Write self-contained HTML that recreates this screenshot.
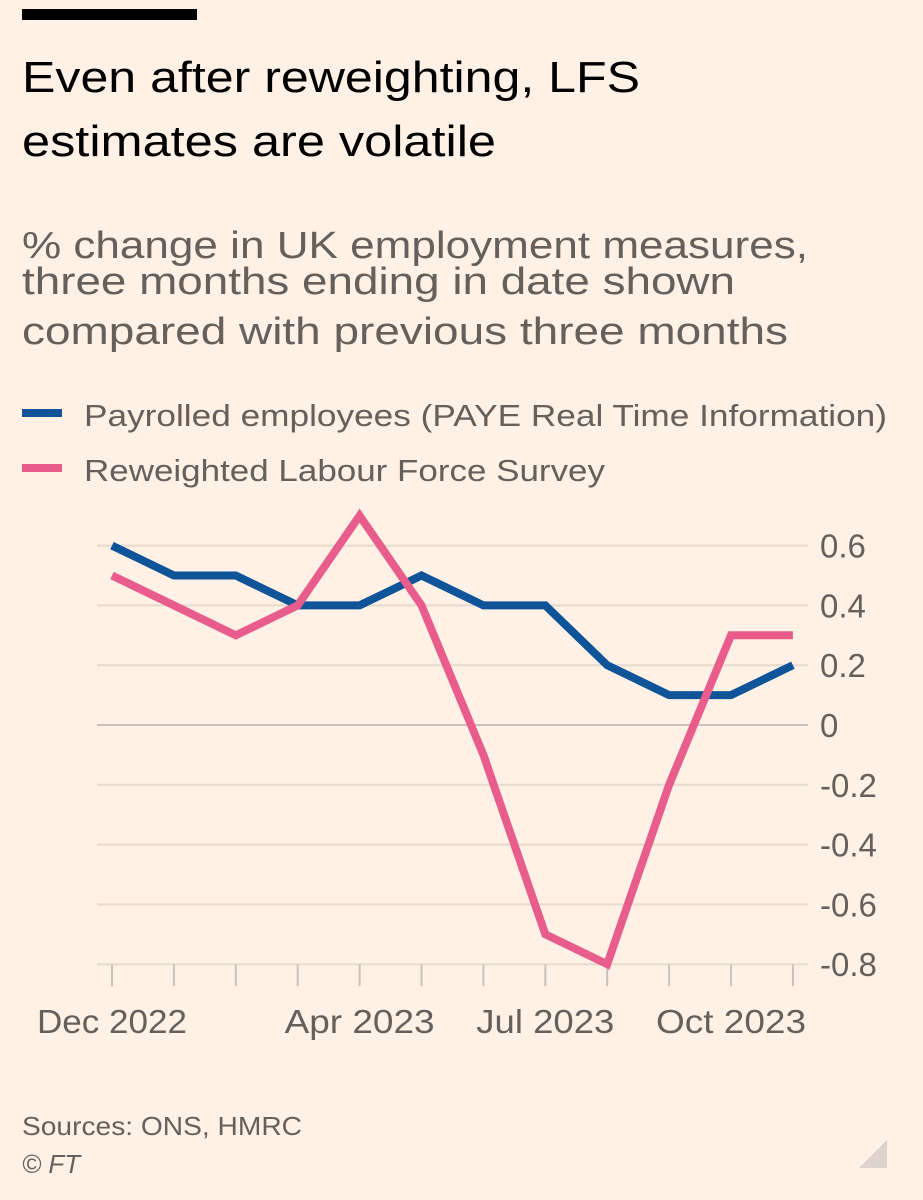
<!DOCTYPE html>
<html><head><meta charset="utf-8"><style>
html,body{margin:0;padding:0;background:#FFF1E5;}
body{width:923px;height:1200px;position:relative;overflow:hidden;font-family:"Liberation Sans",sans-serif;}
svg{position:absolute;left:0;top:0}
</style></head><body>
<svg width="923" height="1200" id="svg">
<rect x="22" y="9" width="175" height="11" fill="#000"/>
<text x="22" y="92" font-size="44" fill="#000" textLength="618" lengthAdjust="spacingAndGlyphs">Even after reweighting, LFS</text>
<text x="22" y="156" font-size="44" fill="#000" textLength="474" lengthAdjust="spacingAndGlyphs">estimates are volatile</text>
<g font-size="38" fill="#66605C">
<text x="22" y="258" textLength="786" lengthAdjust="spacingAndGlyphs">% change in UK employment measures,</text>
<text x="22" y="294" textLength="713" lengthAdjust="spacingAndGlyphs">three months ending in date shown</text>
<text x="22" y="344" textLength="766" lengthAdjust="spacingAndGlyphs">compared with previous three months</text>
</g>
<rect x="22" y="409" width="40" height="8" fill="#0F5499"/>
<text x="84" y="426" font-size="31" fill="#66605C" textLength="803" lengthAdjust="spacingAndGlyphs">Payrolled employees (PAYE Real Time Information)</text>
<rect x="22" y="464" width="40" height="8" fill="#E95D8C"/>
<text x="84" y="481" font-size="31" fill="#66605C" textLength="521" lengthAdjust="spacingAndGlyphs">Reweighted Labour Force Survey</text>
<g id="grid"></g><g id="lines"></g>
<text x="22" y="1135" font-size="26" fill="#66605C" textLength="280" lengthAdjust="spacingAndGlyphs">Sources: ONS, HMRC</text>
<text x="22" y="1173" font-size="26" fill="#66605C" font-style="italic">© FT</text>
<polygon points="887,1140 887,1168 859,1168" fill="#DDD3CC"/>
</svg>
<script>
const months=["Dec 2022","Jan 2023","Feb 2023","Mar 2023","Apr 2023","May 2023","Jun 2023","Jul 2023","Aug 2023","Sep 2023","Oct 2023","Nov 2023"];
const paye=[0.6,0.5,0.5,0.4,0.4,0.5,0.4,0.4,0.2,0.1,0.1,0.2];
const lfs=[0.5,0.4,0.3,0.4,0.7,0.4,-0.1,-0.7,-0.8,-0.2,0.3,0.3];
const yTicks=[0.6,0.4,0.2,0,-0.2,-0.4,-0.6,-0.8];
const xLabels=[[0,"Dec 2022"],[4,"Apr 2023"],[7,"Jul 2023"],[10,"Oct 2023"]];
const NS="http://www.w3.org/2000/svg";
const x=i=>112+i*61.9;
const y=v=>725-v*299;
const grid=document.getElementById('grid'),lines=document.getElementById('lines');
function mk(t,a,p){const e=document.createElementNS(NS,t);for(const k in a)e.setAttribute(k,a[k]);p.appendChild(e);return e;}
yTicks.forEach(v=>{
 const l=mk('line',{x1:97,x2:808,y1:y(v),y2:y(v),stroke:v===0?'#CCC1B7':'#E6D9CE','stroke-width':2},grid);
 
 
 const t=mk('text',{x:820,y:y(v)+12,'font-size':33,fill:'#66605C'},grid);t.textContent=(v===0?'0':String(v));
 
 
});
months.forEach((m,i)=>{
 const l=mk('line',{x1:x(i),x2:x(i),y1:y(-0.8),y2:y(-0.8)+22,stroke:'#CCC1B7','stroke-width':2},grid);
 
 
});
xLabels.forEach(([i,s])=>{
 const t=mk('text',{x:x(i),y:1033,'font-size':33,fill:'#66605C','text-anchor':'middle',textLength:150,lengthAdjust:'spacingAndGlyphs'},grid);t.textContent=s;
 if(s.startsWith('Jul'))t.setAttribute('textLength',138);
 
 
});
function series(d,c,n){
 const p=mk('polyline',{points:d.map((v,i)=>x(i)+','+y(v)).join(' '),fill:'none',stroke:c,'stroke-width':8,'stroke-linejoin':'miter'},lines);
 
 
}
series(paye,'#0F5499','line-paye');
series(lfs,'#E95D8C','line-lfs');
</script>
</body></html>
